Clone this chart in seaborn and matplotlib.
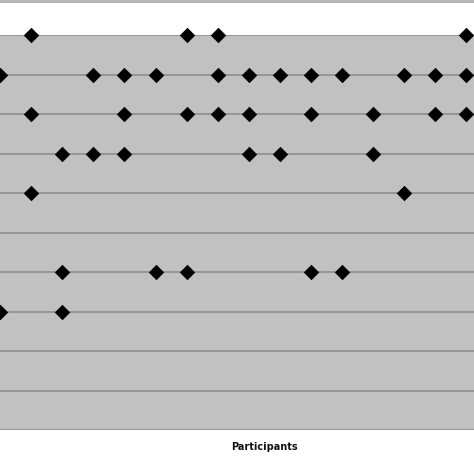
import pandas as pd
import numpy as np
import matplotlib
matplotlib.use("Agg")
import matplotlib.pyplot as plt
import seaborn as sns
from matplotlib.lines import Line2D

# participant numbers that hit each level (level 10 = top gridline)
levels = [10, 9, 8, 7, 6, 5, 4, 3, 2, 1, 0]
hits = {
    10: [2, 7, 8, 16],
    9: [1, 4, 5, 6, 8, 9, 10, 11, 12, 14, 15, 16],
    8: [2, 5, 7, 8, 9, 11, 13, 15, 16],
    7: [3, 4, 5, 9, 10, 13],
    6: [2, 14],
    5: [],
    4: [3, 6, 7, 11, 12],
    3: [1, 3],
    2: [],
    1: [],
    0: [],
}
x_label = "Participants"

rows = []
for lvl in levels:
    for p in hits[lvl]:
        rows.append({"participant": p, "level": lvl})
df = pd.DataFrame(rows)

sns.set_style("white")
fig = plt.figure(figsize=(4.74, 4.74), dpi=100)
ax = fig.add_axes([0, 1 - 430 / 474, 1, (430 - 35) / 474])
ax.set_facecolor("#c1c1c1")

for lvl in levels:
    ax.axhline(lvl, color="#8e8e8e", lw=1.2, zorder=1)

sns.scatterplot(data=df, x="participant", y="level", marker="D", color="black",
                s=62, edgecolor="black", linewidth=0, ax=ax, zorder=3, clip_on=False)

ax.set_xlim(1, 1 + 474 / 31.1)
ax.set_ylim(0, 10)
ax.set_xticks([])
ax.set_yticks([])
ax.set_xlabel("")
ax.set_ylabel("")
for sp in ax.spines.values():
    sp.set_visible(False)

fig.text(264 / 474, 1 - 447 / 474, x_label, ha="center", va="center",
         fontsize=7, fontweight="bold", color="#111111")
fig.add_artist(Line2D([0, 1], [0.998, 0.998], color="#b0b0b0", lw=2))

fig.savefig("out.png", dpi=100)
